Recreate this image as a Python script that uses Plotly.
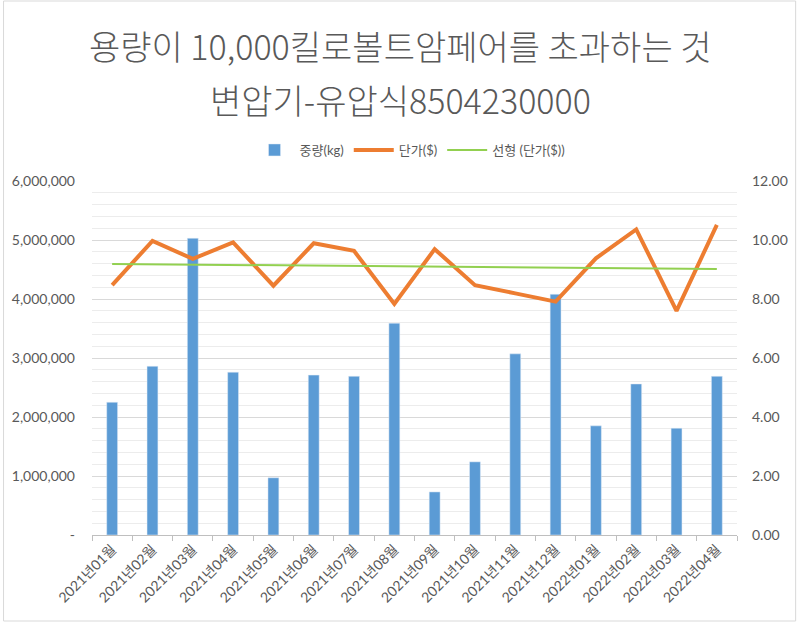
import numpy as np
import plotly.graph_objects as go

months = ["2021년01월", "2021년02월", "2021년03월", "2021년04월", "2021년05월", "2021년06월",
          "2021년07월", "2021년08월", "2021년09월", "2021년10월", "2021년11월", "2021년12월",
          "2022년01월", "2022년02월", "2022년03월", "2022년04월"]
weight_kg = [2250000, 2860000, 5030000, 2760000, 970000, 2710000, 2690000, 3590000,
             730000, 1240000, 3070000, 4080000, 1850000, 2560000, 1810000, 2690000]
unit_price = [8.47, 9.97, 9.36, 9.92, 8.45, 9.89, 9.63, 7.83,
              9.69, 8.47, 8.19, 7.91, 9.38, 10.36, 7.60, 10.51]
left_ticks = [0, 1000000, 2000000, 3000000, 4000000, 5000000, 6000000]
left_ticktext = ["-", "1,000,000", "2,000,000", "3,000,000", "4,000,000", "5,000,000", "6,000,000"]
right_ticks = [0, 2, 4, 6, 8, 10, 12]
right_ticktext = ["0.00", "2.00", "4.00", "6.00", "8.00", "10.00", "12.00"]

# linear trendline of unit price (as Excel's linear trend)
idx = np.arange(1, len(unit_price) + 1)
slope, intercept = np.polyfit(idx, unit_price, 1)
trend = list(slope * idx + intercept)

FONT = "Lato, Noto Sans CJK KR, sans-serif"
GRAY = "#595959"

fig = go.Figure()
fig.add_trace(go.Bar(x=months, y=weight_kg, name="중량(kg)", marker_color="#5b9bd5",
                     width=0.27, yaxis="y"))
fig.add_trace(go.Scatter(x=months, y=unit_price, name="단가($)", mode="lines",
                         line=dict(color="#ed7d31", width=4), yaxis="y2"))
fig.add_trace(go.Scatter(x=months, y=trend, name="선형 (단가($))", mode="lines",
                         line=dict(color="#92d050", width=2), yaxis="y2"))

L, R, T, B = 90, 61, 181, 89
H = 624 - T - B
W = 800 - L - R

def py(p):
    return (624 - B - p) / H

def px(p):
    return (p - L) / W

fig.update_layout(
    width=800, height=624,
    margin=dict(l=L, r=R, t=T, b=B),
    paper_bgcolor="white", plot_bgcolor="white",
    font=dict(family=FONT, color=GRAY, size=13),
    showlegend=True,
    legend=dict(orientation="h", x=px(410), xanchor="center", y=py(150), yanchor="middle",
                font=dict(size=13, color=GRAY), bgcolor="rgba(0,0,0,0)", itemwidth=40),
    xaxis=dict(type="category", tickangle=-45, showline=True, linecolor="#bfbfbf",
               ticks="outside", tickson="boundaries", ticklen=5, tickcolor="#bfbfbf",
               showgrid=False, tickfont=dict(size=14, color=GRAY)),
    yaxis=dict(range=[0, 6000000], tickvals=left_ticks, ticktext=left_ticktext,
               showgrid=True, gridcolor="#d9d9d9", gridwidth=1, zeroline=False,
               minor=dict(dtick=200000, showgrid=True, gridcolor="#ececec", gridwidth=1),
               tickfont=dict(size=14, color=GRAY), ticklabelstandoff=16),
    yaxis2=dict(range=[0, 12], tickvals=right_ticks, ticktext=right_ticktext,
                overlaying="y", side="right", showgrid=False, zeroline=False,
                tickfont=dict(size=14, color=GRAY), ticklabelstandoff=14),
    annotations=[
        dict(text="용량이 10,000킬로볼트암페어를 초과하는 것", xref="paper", yref="paper",
             x=px(400), y=py(45), xanchor="center", yanchor="middle", showarrow=False,
             font=dict(size=34, color=GRAY, family="Noto Sans CJK KR", weight=300)),
        dict(text="변압기-유압식8504230000", xref="paper", yref="paper",
             x=px(400), y=py(100), xanchor="center", yanchor="middle", showarrow=False,
             font=dict(size=34, color=GRAY, family="Noto Sans CJK KR", weight=300)),
    ],
    shapes=[dict(type="rect", xref="paper", yref="paper",
                 x0=px(1), x1=px(798), y0=py(621), y1=py(1),
                 line=dict(color="#d9d9d9", width=1), fillcolor="rgba(0,0,0,0)", layer="below")],
)

fig.write_html("out.html")
